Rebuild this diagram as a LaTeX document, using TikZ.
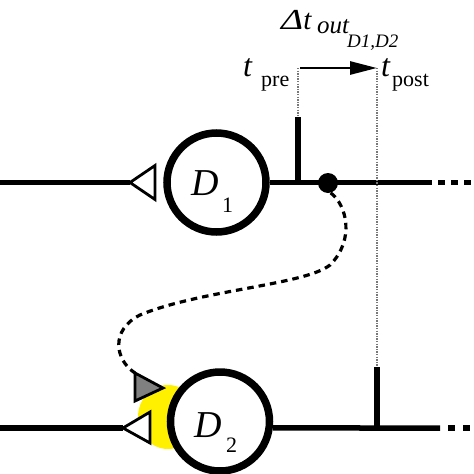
\documentclass[tikz,border=0pt]{standalone}
\usepackage{fontspec}
\setmainfont{Liberation Serif}
\usetikzlibrary{arrows.meta}
\definecolor{hiyellow}{RGB}{255,240,0}
\definecolor{trigrey}{RGB}{128,128,128}
\definecolor{guidegrey}{RGB}{120,120,120}
\begin{document}
\begin{tikzpicture}[x=1pt,y=-1pt,
  wire/.style={line width=5.5pt},
  wiredash/.style={line width=5.5pt,dash pattern=on 7pt off 6pt},
  neuron/.style={circle,draw,line width=7.5pt,fill=white,minimum size=99pt,inner sep=0pt},
  tickmark/.style={line width=5.5pt},
  guide/.style={guidegrey,line width=1.3pt,dash pattern=on 1.3pt off 1.3pt},
  hollowtri/.style={draw,fill=white,line width=2.8pt,line join=miter},
  greytri/.style={draw,fill=trigrey,line width=2.8pt,line join=miter},
  spikepath/.style={line width=3.2pt,dash pattern=on 6.5pt off 5pt},
  bigD/.style={anchor=base west,inner sep=0pt,font=\fontsize{38}{38}\selectfont\itshape},
  subnum/.style={anchor=base west,inner sep=0pt,font=\fontsize{22}{22}\selectfont},
  tlab/.style={anchor=base west,inner sep=0pt,font=\fontsize{32}{32}\selectfont\itshape},
  tsub/.style={anchor=base west,inner sep=0pt,font=\fontsize{22}{22}\selectfont},
  dlab/.style={anchor=base west,inner sep=0pt,font=\fontsize{29}{29}\selectfont\itshape},
  olab/.style={anchor=base west,inner sep=0pt,font=\fontsize{25}{25}\selectfont\itshape},
  osub/.style={anchor=base west,inner sep=0pt,font=\fontsize{19}{19}\selectfont\itshape}]
\useasboundingbox (0,0) rectangle (474,474);

% yellow highlight behind D2 input
\fill[hiyellow] (168,417) ellipse [x radius=30, y radius=32];

% neurons
\node[neuron] (D1) at (216.5,182.5) {};
\node[neuron] (D2) at (220,421.5) {};
\node[bigD] (D1D) at (191,195) {D};
\node[subnum] (D1n) at (222,212) {1};
\node[bigD] (D2D) at (194,437) {D};
\node[subnum] (D2n) at (226,452) {2};

% coordinates
\coordinate (in1) at (0,182.5);
\coordinate (tip1) at (130,182.5);
\coordinate (in2) at (0,428);
\coordinate (tip2) at (123,428);
\coordinate (out1) at (432,182.5);
\coordinate (out1a) at (438,182.5);
\coordinate (out1b) at (471,182.5);
\coordinate (out2) at (440,428);
\coordinate (out2a) at (448,428);
\coordinate (out2b) at (476,428);
\coordinate (pre) at (298,182.5);
\coordinate (preTop) at (298,117);
\coordinate (preG) at (298,68);
\coordinate (post) at (377,428);
\coordinate (postTop) at (377,367);
\coordinate (postG) at (377,68);
\coordinate (gtl) at (135,373);

% input wires and dendrite triangles
\draw[wire] (in1) -- (tip1);
\draw[hollowtri] (tip1) -- (155,165.5) -- (155,199.5) -- cycle;
\draw[wire] (in2) -- (tip2);
\draw[hollowtri] (tip2) -- (150,412) -- (150,443) -- cycle;
\draw[greytri] (gtl) -- (163,388) -- (135,401) -- cycle;

% output wires
\draw[wire] (D1.east) -- (out1);
\draw[wiredash] (out1a) -- (out1b);
\draw[wire] (D2.-7.5) -- (out2);
\draw[wiredash, dash pattern=on 7pt off 8pt] (out2a) -- (out2b);

% guides and spike ticks
\draw[guide] (preG) -- (preTop);
\draw[guide] (postG) -- (postTop);
\draw[tickmark] (preTop) -- (pre);
\draw[tickmark] (postTop) -- (post);

% dot and spike propagation path
\node[circle,fill,minimum size=20pt,inner sep=0pt] (dot) at (328,183) {};
\draw[spikepath] (dot.-75) .. controls (347,205) and (355,240) .. (330,265)
  .. controls (305,285) and (200,290) .. (140,315)
  .. controls (110,330) and (115,360) .. (gtl);

% delay arrow
\draw[line width=2.8pt,-{Triangle[length=27pt,width=13pt]}] (300,68) -- (postG);

% labels
\node[tlab] (tp) at (243,76) {t};
\node[tsub] (tps) at (261,86) {pre};
\node[tlab] (tq) at (381,76) {t};
\node[tsub] (tqs) at (392,86) {post};
\node[dlab] (dt) at (281,29) {\scalebox{1.3}[1]{Δ}t};
\node[olab] (out) at (317,33) {out};
\node[osub] (outs) at (347,47) {D1,D2};
\end{tikzpicture}
\end{document}
